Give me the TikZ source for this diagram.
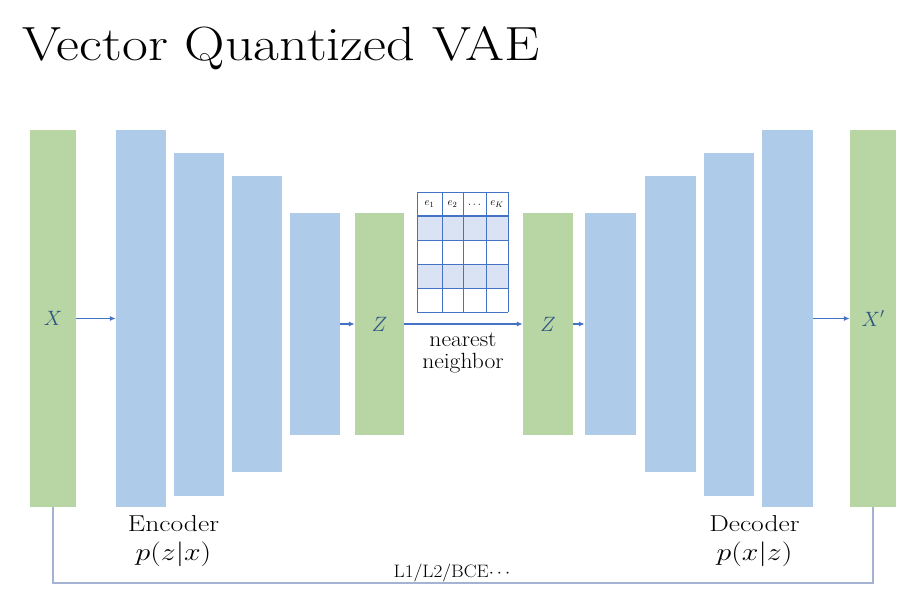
\documentclass[tikz,border=0pt]{standalone}
\usetikzlibrary{arrows.meta}
\definecolor{boxgreen}{RGB}{183,214,164}
\definecolor{boxblue}{RGB}{174,203,233}
\definecolor{arrowblue}{RGB}{68,114,196}
\definecolor{labelblue}{RGB}{47,85,130}
\definecolor{rowfill}{RGB}{218,227,243}
\definecolor{losscol}{RGB}{165,178,212}
\newcommand{\widetext}[2]{\scalebox{#1}[1]{#2}}
\begin{document}
\begin{tikzpicture}[x=1pt,y=-1pt,
  gbox/.style={fill=boxgreen,draw=none,minimum width=#1,inner sep=0pt,text=labelblue,font=\fontsize{20}{20}\selectfont},
  bbox/.style={fill=boxblue,draw=none,minimum width=#1,inner sep=0pt},
  flow/.style={draw=arrowblue,line width=1.2pt,-{Latex[length=6pt,width=5pt]}},
  loss/.style={draw=losscol,line width=1.2pt},
  lbl/.style={inner sep=0pt,anchor=base},
  twoline/.style={inner sep=0pt,anchor=north,align=center},
  gridline/.style={draw=arrowblue,line width=0.9pt},
  hdr/.style={font=\fontsize{11}{11}\selectfont,inner sep=0pt}]
\useasboundingbox (0,0) rectangle (919,604);
\node[anchor=base west,inner sep=0pt,font=\fontsize{48}{48}\selectfont] (title) at (22,61) {\widetext{1.17}{Vector Quantized VAE}};
% boxes
\node[gbox=46pt,minimum height=377pt] (X) at (53,318.5) {$X$};
\node[bbox=50pt,minimum height=377pt] (E1) at (141,318.5) {};
\node[bbox=50pt,minimum height=343pt] (E2) at (199,324.5) {};
\node[bbox=50pt,minimum height=296pt] (E3) at (257,324) {};
\node[bbox=50pt,minimum height=222pt] (E4) at (315,324) {};
\node[gbox=49pt,minimum height=222pt] (Z1) at (379.5,324) {$Z$};
\node[gbox=50pt,minimum height=222pt] (Z2) at (548,324) {$Z$};
\node[bbox=51pt,minimum height=222pt] (D1) at (610.5,324) {};
\node[bbox=51pt,minimum height=296pt] (D2) at (670.5,324) {};
\node[bbox=50pt,minimum height=343pt] (D3) at (729,324.5) {};
\node[bbox=51pt,minimum height=377pt] (D4) at (787.5,318.5) {};
\node[gbox=46pt,minimum height=377pt] (Xp) at (873,318.5) {$X'$};
% codebook
\fill[rowfill] (417,216) rectangle (508,240);
\fill[rowfill] (417,264) rectangle (508,288);
\foreach \x in {417,442,463,486,508} \draw[gridline] (\x,192) -- (\x,312);
\foreach \y in {192,240,264,288,312} \draw[gridline] (417,\y) -- (508,\y);
\draw[draw=arrowblue,line width=1.6pt] (417,216) -- (508,216);
\node[hdr] (c1) at (429.5,204) {$e_1$};
\node[hdr] (c2) at (452.5,204) {$e_2$};
\node[hdr] (c3) at (474.5,205) {$\cdots$};
\node[hdr] (c4) at (497,204) {$e_K$};
% arrows
\draw[flow] (X.east) -- (E1.west);
\draw[flow] (E4.east) -- (Z1.west);
\draw[flow] (Z1.east) -- (Z2.west);
\draw[flow] (Z2.east) -- (D1.west);
\draw[flow] (D4.east) -- (Xp.west);
\node[twoline,font=\fontsize{22}{22}\selectfont] (nn) at (463,333) {\widetext{1.07}{nearest}\\\widetext{1.07}{neighbor}};
% labels
\node[twoline,font=\fontsize{23}{29}\selectfont] (enc) at (173.5,515) {\widetext{1.2}{Encoder}\\\widetext{1.2}{$p(z|x)$}};
\node[twoline,font=\fontsize{23}{29}\selectfont] (dec) at (754.5,515) {\widetext{1.2}{Decoder}\\\widetext{1.2}{$p(x|z)$}};
% loss
\draw[loss] (X.south) -- (X.south |- 0,583) -| (Xp.south);
\node[lbl,font=\fontsize{18}{18}\selectfont] (lossl) at (452,577) {\widetext{1.07}{L1/L2/BCE$\cdots$}};
\end{tikzpicture}
\end{document}
